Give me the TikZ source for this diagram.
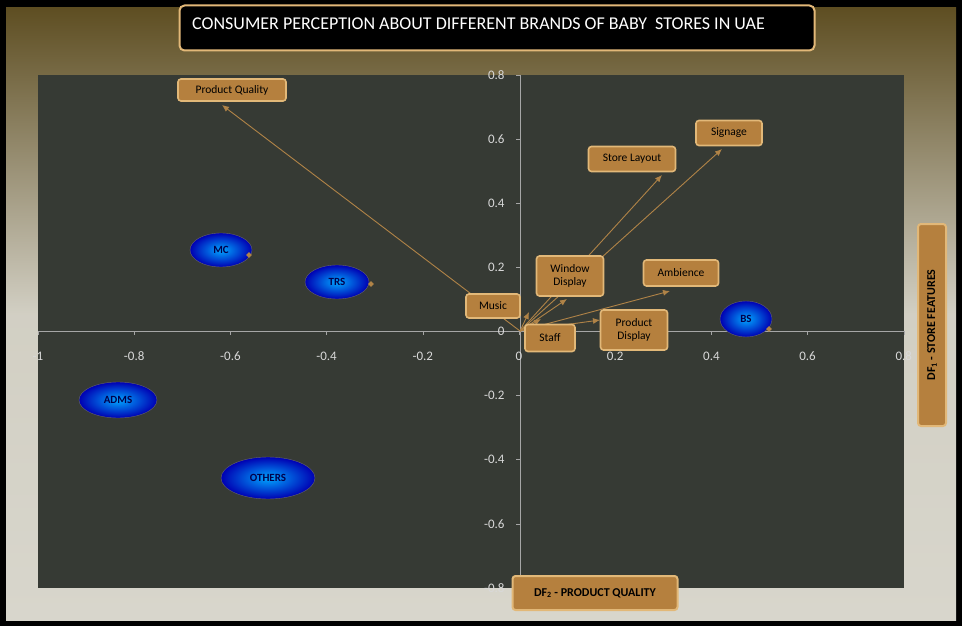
\documentclass[tikz,border=0pt]{standalone}
\usepackage{fontspec}
\setmainfont{Carlito}
\usetikzlibrary{arrows.meta,shapes.geometric}
\definecolor{tan}{HTML}{B5803E}
\definecolor{tanb}{HTML}{E2B878}
\definecolor{plotbg}{HTML}{363A34}
\definecolor{arr}{HTML}{B08347}
\definecolor{frametop}{HTML}{5E4E22}
\definecolor{framemid}{HTML}{D8D6CC}
\tikzset{
 lbl/.style={draw=tanb,line width=1.6pt,fill=tan,rounded corners=3pt,font=\fontsize{11.5}{13}\selectfont,text=black,align=center,inner sep=0pt},
 brand/.style={ellipse,draw=black!60,inner color=blue!35!cyan,outer color=blue!70!black,font=\bfseries\fontsize{11}{12}\selectfont,text=blue!30!black,inner sep=0pt},
 vec/.style={draw=arr,line width=0.9pt,-{Latex[length=7pt,width=6pt]}},
 tick/.style={text=white!85!black,font=\fontsize{13}{15}\selectfont},
 mk/.style={diamond,fill=arr,inner sep=0pt,minimum size=6pt}
}
\begin{document}
\begin{tikzpicture}[x=1pt,y=-1pt]
\useasboundingbox (0,0) rectangle (962,626);
\fill[black] (0,0) rectangle (962,626);
\shade[top color=frametop,bottom color=framemid,middle color=framemid!95!frametop] (6,8) rectangle (956,620);
\fill[plotbg] (38,75) rectangle (904,588);
% axes
\draw[gray!70,line width=0.6pt] (38,331) -- (904,331);
\draw[gray!70,line width=0.6pt] (520,75) -- (520,588);
\foreach \v/\t in {0/-1,1/-0.8,2/-0.6,3/-0.4,4/-0.2,5/0,6/0.2,7/0.4,8/0.6,9/0.8}
 {\node[tick] at ({38+\v*96.2},356) {\t};
  \draw[gray!70] ({38+\v*96.2},331) -- ({38+\v*96.2},335);}
\foreach \v/\t in {0/0.8,1/0.6,2/0.4,3/0.2,4/0,5/-0.2,6/-0.4,7/-0.6,8/-0.8}
 {\node[tick,anchor=east] at (508,{75+\v*64.1}) {\t};
  \draw[gray!70] (516,{75+\v*64.1}) -- (520,{75+\v*64.1});}
% title
\node[draw=tanb,line width=2pt,fill=black,rounded corners=5pt,minimum width=635pt,minimum height=45pt] (title) at (497,28) {};
\node[anchor=west,text=white,font=\fontsize{18}{20}\selectfont,inner sep=0pt] (ttext) at (192,24) {CONSUMER PERCEPTION ABOUT DIFFERENT BRANDS OF BABY\ \ STORES IN UAE};
% vectors
\coordinate (o) at (520,331);
\coordinate (pq) at (222,105);
\coordinate (sg) at (722,149);
\coordinate (sl) at (662,175);
\coordinate (wd) at (567,299);
\coordinate (am) at (670,291);
\coordinate (pd) at (600,320);
\coordinate (mu) at (529,312);
\coordinate (st) at (541,319);
\foreach \p in {pq,sg,sl,wd,am,pd,mu,st} \draw[vec] (o) -- (\p);
% labels
\node[lbl,minimum width=108pt,minimum height=22pt] (lpq) at (232,90) {Product Quality};
\node[lbl,minimum width=66pt,minimum height=25pt] (lsg) at (729,133) {Signage};
\node[lbl,minimum width=87pt,minimum height=25pt] (lsl) at (632,159) {Store Layout};
\node[lbl,minimum width=67pt,minimum height=40pt] (lwd) at (570,276) {Window\\Display};
\node[lbl,minimum width=75pt,minimum height=26pt] (lam) at (681,273) {Ambience};
\node[lbl,minimum width=54pt,minimum height=24pt] (lmu) at (493,306) {Music};
\node[lbl,minimum width=50pt,minimum height=27pt] (lst) at (550,338) {Staff};
\node[lbl,minimum width=67pt,minimum height=40pt] (lpd) at (634,330) {Product\\Display};
% brands
\node[brand,minimum width=62pt,minimum height=34pt] (mc) at (221,250) {MC};
\node[mk] (mcm) at (249,255) {};
\node[brand,minimum width=64pt,minimum height=34pt] (trs) at (337,282) {TRS};
\node[mk] (trsm) at (371,284) {};
\node[brand,minimum width=52pt,minimum height=36pt] (bs) at (746,319) {BS};
\node[mk] (bsm) at (769,329) {};
\node[brand,minimum width=78pt,minimum height=36pt] (adms) at (118,400) {ADMS};
\node[brand,minimum width=94pt,minimum height=42pt] (oth) at (268,478) {OTHERS};
% axis titles
\node[lbl,line width=2pt,minimum width=165pt,minimum height=34pt,font=\bfseries\fontsize{12}{13}\selectfont] (dfx) at (595,593) {DF\textsubscript{2} - PRODUCT QUALITY};
\node[lbl,line width=2pt,rotate=90,minimum width=202pt,minimum height=28pt,font=\bfseries\fontsize{12}{13}\selectfont] (dfy) at (932,325) {DF\textsubscript{1} - STORE FEATURES};
\end{tikzpicture}
\end{document}
